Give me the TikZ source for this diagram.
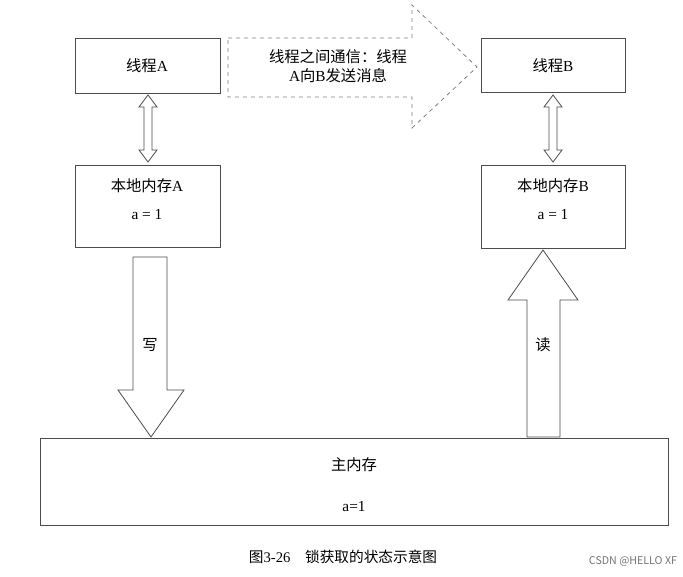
\documentclass[tikz,border=0pt]{standalone}
\usepackage{fontspec}
\setmainfont{Liberation Serif}
\newfontfamily\cjk{Noto Sans CJK SC}
\begin{document}
\begin{tikzpicture}[x=0.75pt,y=-0.75pt,
  box/.style={draw=black!70,line width=0.6pt},
  arr/.style={draw=black!70,line width=0.6pt,fill=white},
  lbl/.style={font=\fontsize{11.5}{14}\selectfont,align=center}]
\useasboundingbox (0,0) rectangle (683,577);
% boxes
\draw[box] (75,38) rectangle (220,93);
\node[lbl] (ta) at (147,66) {{\cjk 线程}A};
\draw[box] (481,38) rectangle (625,92);
\node[lbl] (tb) at (553,66) {{\cjk 线程}B};
\draw[box] (75,165) rectangle (220,247);
\node[lbl] (la) at (147,186) {{\cjk 本地内存}A};
\node[lbl] (laa) at (147,215) {a = 1};
\draw[box] (481,165) rectangle (625,248);
\node[lbl] (lb) at (553,186) {{\cjk 本地内存}B};
\node[lbl] (lbb) at (553,215) {a = 1};
\draw[box] (40,438) rectangle (668,525);
\node[lbl] (mm) at (354,465) {\cjk 主内存};
\node[lbl] (mma) at (354,507) {a=1};
% dashed arrow
\draw[draw=black!50,dashed,line width=0.6pt] (228,38)--(412,38)--(412,5)--(477,67)--(412,128)--(412,97)--(228,97)--cycle;
\node[lbl] (msg) at (338,66) {{\cjk 线程之间通信：线程}\\A{\cjk 向}B{\cjk 发送消息}};
% double arrows
\foreach \x in {148,553}{
\draw[arr] (\x,95)--(\x+9,107)--(\x+4,107)--(\x+4,150)--(\x+9,150)--(\x,162)--(\x-9,150)--(\x-4,150)--(\x-4,107)--(\x-9,107)--cycle;}
% write arrow
\draw[arr] (133,257)--(167,257)--(167,390)--(184,390)--(151,437)--(118,390)--(133,390)--cycle;
\node[lbl] (w) at (150,345) {\cjk 写};
% read arrow
\draw[arr] (543,250)--(578,300)--(560,300)--(560,437)--(527,437)--(527,300)--(508,300)--cycle;
\node[lbl] (r) at (543,345) {\cjk 读};
% caption
\node[font=\fontsize{11}{13}\selectfont] (cap) at (343,557) {{\cjk 图}3-26\quad{\cjk 锁获取的状态示意图}};
\node[font=\cjk\fontsize{8}{10}\selectfont,text=black!55] (src) at (633,561) {CSDN @HELLO XF};
\end{tikzpicture}
\end{document}
